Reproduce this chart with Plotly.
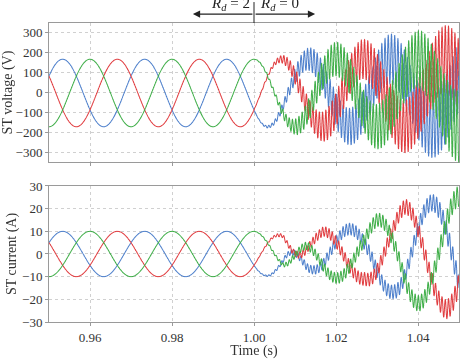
import numpy as np
import plotly.graph_objects as go

# ---------------- data ----------------
phase_names = ["red", "green", "blue"]
phase_colors = ["#e03c3f", "#3fae48", "#4d7fcb"]
phase_peak_times = [0.96667, 0.96000, 0.97333]   # time of a fundamental peak (s)

fund_freq = 50.0          # Hz
hf_freq = 1270.0          # Hz, high-frequency oscillation after R_d -> 0
v_fund_peak = 170.0       # V
i_fund_peak = 10.0        # A

# envelope knots (time in s)
env_time = [0.950, 1.000, 1.002, 1.005, 1.008, 1.011, 1.014, 1.018, 1.022, 1.027,
            1.033, 1.038, 1.043, 1.047, 1.050]
v_hf_amp = [0, 0, 3, 10, 25, 45, 60, 80, 90, 100, 125, 135, 155, 170, 180]
i_hf_amp = [0, 0, 0.2, 0.5, 1.0, 1.5, 1.8, 2.2, 2.5, 2.8, 3.0, 3.3, 3.6, 4.2, 4.5]

scale_time = [0.950, 1.000, 1.004, 1.007, 1.010, 1.013, 1.017, 1.022, 1.027,
              1.030, 1.034, 1.037, 1.041, 1.045, 1.047, 1.050]
i_fund_scale = [1.0, 1.0, 0.95, 0.8, 0.05, -0.6, -1.0, -1.1, -1.1,
                -1.5, -1.7, -2.1, -2.2, -2.3, -2.45, -2.55]

x_ticks = [0.96, 0.98, 1.00, 1.02, 1.04]
x_tick_text = ["0.96", "0.98", "1.00", "1.02", "1.04"]
v_ticks = [300, 200, 100, 0, -100, -200, -300]
i_ticks = [30, 20, 10, 0, -10, -20, -30]

# ---------------- build traces ----------------
t = np.arange(0.95, 1.05 + 1e-9, 1e-5)
vhf = np.interp(t, env_time, v_hf_amp)
ihf = np.interp(t, env_time, i_hf_amp)
isc = np.interp(t, scale_time, i_fund_scale)

fig = go.Figure()
order = [2, 0, 1]
for k in order:
    tp = phase_peak_times[k]
    th = 2 * np.pi * fund_freq * (t - tp)
    hf_ph = 2 * np.pi * k / 3
    v = v_fund_peak * np.cos(th) + vhf * np.sin(2 * np.pi * hf_freq * t + hf_ph)
    i = i_fund_peak * isc * np.cos(th) + ihf * np.sin(2 * np.pi * hf_freq * t + hf_ph)
    fig.add_trace(go.Scattergl(x=t, y=v, mode="lines", name=phase_names[k],
                               line=dict(color=phase_colors[k], width=1),
                               xaxis="x", yaxis="y"))
    fig.add_trace(go.Scattergl(x=t, y=i, mode="lines", name=phase_names[k],
                               line=dict(color=phase_colors[k], width=1),
                               xaxis="x2", yaxis="y2"))

font_family = "Liberation Serif, Times New Roman, serif"
axis_common = dict(showline=True, mirror=True, linecolor="#9a9a9a", linewidth=1,
                   ticks="outside", ticklen=3, tickcolor="#9a9a9a", automargin=False,
                   showgrid=True, gridcolor="#d0d0d0", griddash="dot", gridwidth=1,
                   zeroline=False, tickfont=dict(family=font_family, size=13, color="#333"))

fig.update_layout(
    width=474, height=359,
    margin=dict(l=49, r=15, t=23, b=37),
    paper_bgcolor="white", plot_bgcolor="white",
    showlegend=False,
    font=dict(family=font_family, color="#333"),
    xaxis=dict(domain=[0, 1], anchor="y", range=[0.95, 1.05], tickvals=x_ticks,
               showticklabels=False, **axis_common),
    yaxis=dict(domain=[0.535, 1], anchor="x", range=[-350, 350], tickvals=v_ticks,
               title=dict(text="ST voltage (V)", font=dict(family=font_family, size=14, color="#333"),
                          standoff=2), **axis_common),
    xaxis2=dict(domain=[0, 1], anchor="y2", range=[0.95, 1.05], tickvals=x_ticks,
                ticktext=x_tick_text,
                title=dict(text="Time (s)", font=dict(family=font_family, size=14, color="#333"),
                           standoff=2), **axis_common),
    yaxis2=dict(domain=[0, 0.455], anchor="x2", range=[-30, 30], tickvals=i_ticks,
                title=dict(text="ST current (A)", font=dict(family=font_family, size=14, color="#333"),
                           standoff=2), **axis_common),
)

# R_d switching marker above the top panel
fig.add_shape(type="line", xref="x", yref="paper", x0=1.00, x1=1.00, y0=1.0, y1=1.07,
              line=dict(color="#222", width=1))
fig.add_annotation(xref="x", yref="paper", x=0.9851, y=1.030, ax=61, ay=0,
                   showarrow=True, arrowhead=2, arrowsize=1.2, arrowwidth=1.2,
                   arrowcolor="#222", text="")
fig.add_annotation(xref="x", yref="paper", x=1.0149, y=1.030, ax=-61, ay=0,
                   showarrow=True, arrowhead=2, arrowsize=1.2, arrowwidth=1.2,
                   arrowcolor="#222", text="")
fig.add_annotation(xref="x", yref="paper", x=0.9942, y=1.062, showarrow=False,
                   text="<i>R</i><sub><i>d</i></sub> = 2", xanchor="center", yanchor="middle",
                   font=dict(family=font_family, size=15, color="#222"))
fig.add_annotation(xref="x", yref="paper", x=1.0063, y=1.062, showarrow=False,
                   text="<i>R</i><sub><i>d</i></sub> = 0", xanchor="center", yanchor="middle",
                   font=dict(family=font_family, size=15, color="#222"))

fig.write_html("out.html", config={"displayModeBar": False},
               post_script="document.body.style.margin='0';")
